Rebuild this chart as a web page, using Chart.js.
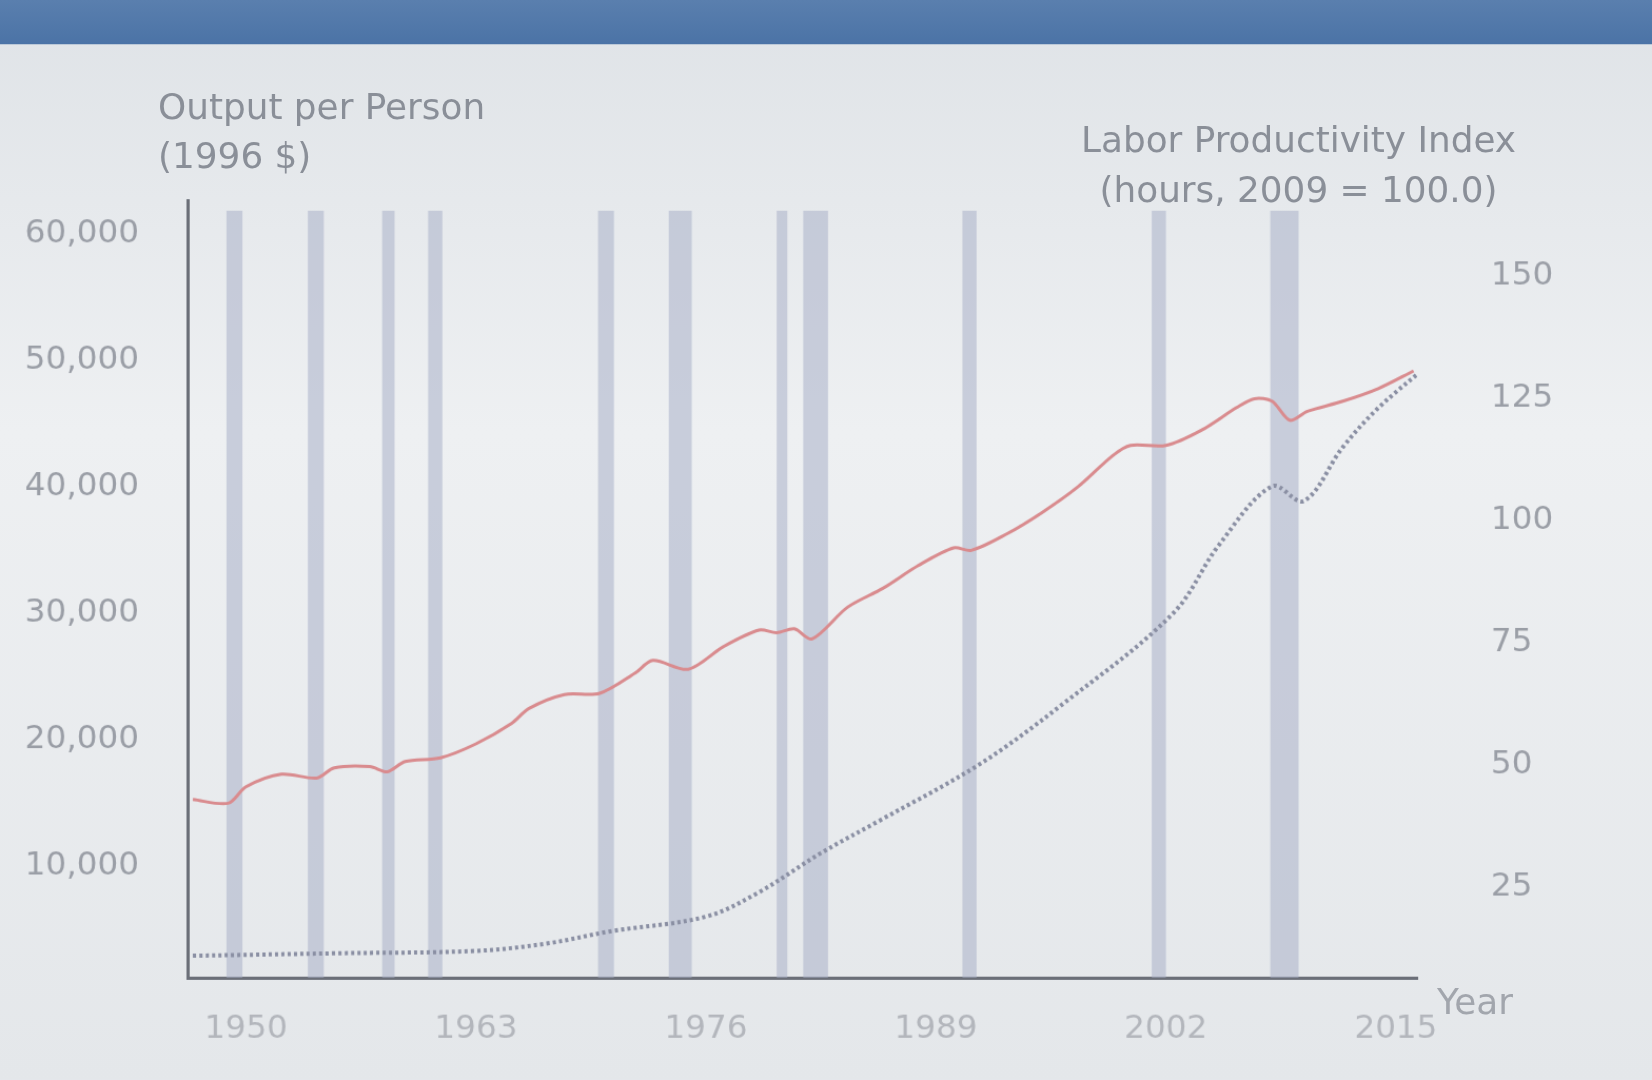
<!DOCTYPE html>
<html><head><meta charset="utf-8">
<script src="https://cdn.jsdelivr.net/npm/chart.js@4"></script>
<style>
html,body{margin:0;padding:0;background:#e9ecef;overflow:hidden}
#wrap{position:absolute;left:0;top:0;width:1568px;height:1025px;transform:scale(1.0536);transform-origin:0 0;
 background:linear-gradient(#dfe3e7,#eef0f2 40%,#e4e7ea)}
#bar{position:absolute;left:0;top:0;width:1568px;height:42px;background:linear-gradient(#5a7fae,#4b73a6)}
canvas{position:absolute;left:0;top:0}
.t{position:absolute;font-family:"DejaVu Sans",sans-serif;font-size:34px;color:#8a8f98;white-space:nowrap}
</style></head><body>
<div id="wrap">
<div id="bar"></div>
<canvas id="c" width="1568" height="1025"></canvas>
<div class="t" style="left:150px;top:78px;line-height:46px">Output per Person<br>(1996 $)</div>
<div class="t" style="left:1026px;top:108px;line-height:48px;text-align:center">Labor Productivity Index<br>(hours, 2009 = 100.0)</div>
<div class="t" style="left:1364px;top:930px;color:#a2a6ad">Year</div>
</div>
<script>
// output per person, thousands of 1996 $
const outYears = [1947,1949,1950,1952,1954,1955,1957,1958,1959,1961,1963,1965,1966,1968,1970,1972,1973,1975,1977,1979,1980,1981,1982,1984,1986,1988,1990,1991,1993,1995,1997,1999,2000,2002,2004,2006,2007,2008,2009,2010,2012,2014,2016];
const outValues = [15.3,15.0,16.3,17.3,17.0,17.8,17.9,17.5,18.3,18.6,19.7,21.3,22.5,23.6,23.7,25.3,26.3,25.6,27.4,28.7,28.5,28.8,28.0,30.5,32.0,33.8,35.2,35.0,36.3,38.0,40.0,42.5,43.3,43.3,44.5,46.3,47.0,46.8,45.3,46.0,46.8,47.8,49.2];
// labor productivity index, 2009 = 100
const idxYears = [1947,1955,1963,1967,1970.6,1976,1979,1982.5,1986,1991.4,1996,2002.4,2005,2008,2009.8,2012,2014,2016.9];
const idxValues = [11,11.5,12,13.5,16,19,24,32,39,50,62,81,95,107,104,115,123,132];
// recession bands [start, end]
const recStart = [1948.9,1953.5,1957.7,1960.3,1969.9,1973.9,1980.0,1981.5,1990.5,2001.2,2007.9];
const recEnd   = [1949.8,1954.4,1958.4,1961.1,1970.8,1975.2,1980.6,1982.9,1991.3,2002.0,2009.5];
const xTicks = [1950,1963,1976,1989,2002,2015];
const leftTicks = [10000,20000,30000,40000,50000,60000];
const rightTicks = [25,50,75,100,125,150];

const bands = {
  id:'bands',
  beforeDatasetsDraw(ch){
    const {ctx, chartArea:a, scales:{x}} = ch;
    ctx.save();
    recStart.forEach((s,i)=>{
      const x0 = x.getPixelForValue(s), x1 = x.getPixelForValue(recEnd[i]);
      ctx.fillStyle='rgba(170,176,200,0.55)';
      ctx.fillRect(x0,a.top+10,x1-x0,a.bottom-a.top-10);
    });
    ctx.restore();
  }
};

const font = {family:'"DejaVu Sans", sans-serif', size:31};
new Chart(document.getElementById('c'),{
  type:'line',
  data:{datasets:[
    {data:outYears.map((y,i)=>({x:y,y:outValues[i]*1000})),yAxisID:'y',borderColor:'#d98b8e',borderWidth:3,pointRadius:0,tension:0.3},
    {data:idxYears.map((y,i)=>({x:y,y:idxValues[i]})),yAxisID:'y2',borderColor:'#8a8fa3',borderWidth:4,borderDash:[3,3],pointRadius:0,tension:0.35}
  ]},
  plugins:[bands],
  options:{
    responsive:false,animation:false,
    layout:{padding:{top:190,right:0,left:0,bottom:0}},
    plugins:{legend:{display:false},tooltip:{enabled:false}},
    scales:{
      x:{type:'linear',min:1946.7,max:2016.2,
        afterBuildTicks:s=>{s.ticks=xTicks.map(v=>({value:v}))},
        afterFit:s=>{s.height=97},
        grid:{display:false},border:{color:'#6b6f78',width:3},
        ticks:{font,color:'#b3b6bc',padding:22,callback:v=>String(v)}},
      y:{position:'left',min:1200,max:62700,
        afterBuildTicks:s=>{s.ticks=leftTicks.map(v=>({value:v}))},
        afterFit:s=>{s.width=178},
        grid:{display:false},border:{color:'#6b6f78',width:3},
        ticks:{font,color:'#9a9ea6',padding:38,callback:v=>v.toLocaleString('en-US')}},
      y2:{position:'right',min:6.5,max:165.5,
        afterBuildTicks:s=>{s.ticks=rightTicks.map(v=>({value:v}))},
        afterFit:s=>{s.width=223},
        grid:{display:false},border:{display:false},
        ticks:{font,color:'#9a9ea6',padding:62}}
    }
  }
});
</script>
</body></html>
